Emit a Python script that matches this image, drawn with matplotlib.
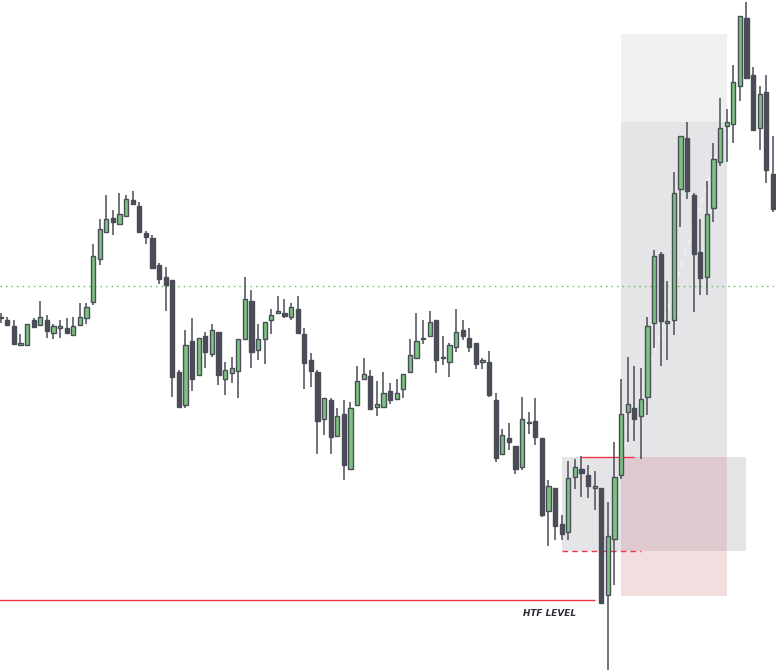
import matplotlib.pyplot as plt
import numpy as np

# OHLC (arbitrary price units, no axis shown)
opens = [353, 350, 344, 325, 325, 350, 345, 350, 337, 342, 342, 335, 345, 352, 368, 411,
         438, 452, 446, 454, 470, 464, 437, 432, 405, 393, 390, 298, 265, 329, 295, 334,
         316, 338, 291, 297, 299, 331, 369, 320, 331, 350, 357, 357, 353, 361, 336, 310,
         298, 251, 270, 234, 256, 201, 265, 291, 294, 263, 263, 279, 271, 281, 298, 312,
         332, 334, 350, 312, 308, 323, 340, 332, 327, 308, 308, 270, 216, 232, 224, 203,
         247, 249, 232, 159, 182, 146, 138, 193, 201, 195, 182, 182, 75, 131, 195, 258,
         262, 254, 273, 347, 416, 347, 350, 481, 532, 475, 418, 393, 462, 508, 544, 546,
         584, 652, 595, 542, 578, 496]
highs = [357, 353, 350, 336, 346, 352, 369, 355, 346, 350, 352, 353, 367, 367, 426, 451,
         475, 460, 477, 475, 479, 468, 439, 435, 407, 403, 390, 300, 340, 352, 332, 338,
         346, 338, 308, 313, 331, 393, 380, 346, 348, 361, 374, 371, 367, 374, 342, 317,
         300, 272, 272, 262, 270, 268, 304, 312, 300, 289, 298, 287, 291, 296, 331, 357,
         350, 359, 350, 334, 327, 361, 350, 342, 327, 312, 319, 277, 241, 247, 224, 273,
         258, 272, 232, 190, 182, 155, 209, 211, 214, 205, 199, 182, 168, 228, 291, 313,
         304, 302, 353, 420, 418, 389, 498, 534, 548, 477, 451, 489, 527, 572, 561, 605,
         654, 668, 603, 584, 595, 534]
lows = [347, 344, 325, 325, 325, 343, 344, 332, 331, 332, 336, 335, 345, 346, 365, 405,
        437, 435, 446, 454, 466, 437, 426, 402, 386, 359, 273, 262, 262, 279, 295, 302,
        313, 285, 275, 287, 272, 331, 302, 310, 306, 336, 356, 352, 350, 337, 281, 283,
        216, 235, 216, 233, 190, 201, 264, 290, 260, 254, 262, 266, 271, 272, 297, 311,
        326, 333, 297, 305, 293, 318, 330, 318, 301, 301, 273, 208, 216, 220, 196, 200,
        236, 225, 153, 124, 130, 130, 130, 181, 173, 172, 160, 66, 0, 85, 191, 228,
        229, 211, 255, 322, 304, 310, 335, 443, 471, 358, 375, 375, 448, 504, 508, 527,
        569, 591, 539, 520, 487, 458]
closes = [352, 345, 326, 327, 346, 343, 353, 339, 344, 344, 337, 344, 353, 363, 414, 441,
          451, 448, 456, 471, 466, 438, 433, 402, 391, 385, 293, 263, 325, 291, 332, 318,
          340, 295, 300, 302, 331, 371, 318, 331, 348, 355, 359, 354, 363, 337, 307, 299,
          249, 272, 233, 254, 205, 262, 289, 296, 261, 266, 277, 270, 277, 296, 315, 329,
          331, 348, 310, 312, 325, 338, 334, 323, 306, 310, 275, 212, 235, 228, 201, 251,
          247, 233, 155, 184, 144, 136, 192, 203, 197, 184, 184, 67, 134, 193, 256, 266,
          251, 271, 344, 414, 349, 349, 477, 534, 479, 416, 392, 456, 511, 542, 548, 588,
          654, 592, 540, 576, 500, 461]

htf_level = 70
htf_end = 90
mid_level = 384

# demand zone (grey box) and the lines on it
zone_left, zone_right = 85, 113
zone_low, zone_high = 119, 213
top_line = (88, 96)
dash_line = (85, 97)

# long position tool
pos_left, pos_right = 94, 110
entry, stop, target, upper = 213, 74, 548, 636

green = '#7bc47f'
dark = '#4a4d57'
edge = '#4a4d57'
red = '#f23645'

fig = plt.figure(figsize=(7.76, 6.7), dpi=100)
ax = fig.add_axes([0, 0, 1, 1])
ax.set_axis_off()

x = np.arange(len(opens))
o = np.array(opens)
c = np.array(closes)

# shapes behind candles
ax.fill_between([zone_left, zone_right], zone_low, zone_high, color='#e5e5e8', lw=0, zorder=1)
ax.fill_between([pos_left, pos_right], target, upper, color='#f0f0f1', lw=0, zorder=1)
ax.fill_between([pos_left, pos_right], entry, target, color='#e5e5e8', lw=0, zorder=1)
ax.fill_between([pos_left, pos_right], stop, entry, color='#c86f78', alpha=0.23, lw=0, zorder=2)
ax.plot([pos_left, pos_right], [entry, target], color='#f4f4f6', lw=1, ls=(0, (4, 4)), zorder=2)

ax.axhline(mid_level, color='#5cbf5c', lw=1, ls=(0, (1, 3)), zorder=2)
ax.hlines(htf_level, -1, htf_end, color=red, lw=1, zorder=3)
ax.hlines(zone_high, top_line[0], top_line[1], color=red, lw=1, zorder=3)
ax.hlines(zone_low, dash_line[0], dash_line[1], color=red, lw=1, ls=(0, (4, 3)), zorder=3)
ax.text(83.2, htf_level - 13, 'HTF LEVEL', fontsize=6.4, fontweight='bold', fontstyle='italic',
        color='#2a2e39', ha='center', va='center', zorder=3)

# candles
ax.vlines(x, lows, highs, color=edge, lw=1.1, zorder=4)
up = c >= o
colors = np.where(up, green, dark)
heights = np.maximum(np.abs(c - o), 1)
ax.bar(x, heights, bottom=np.minimum(o, c), width=0.64, color=colors,
       edgecolor=edge, linewidth=1, zorder=5)

ax.set_xlim(-0.106, 117.47)
ax.set_ylim(0, 670)

fig.savefig('out.png', dpi=100)
